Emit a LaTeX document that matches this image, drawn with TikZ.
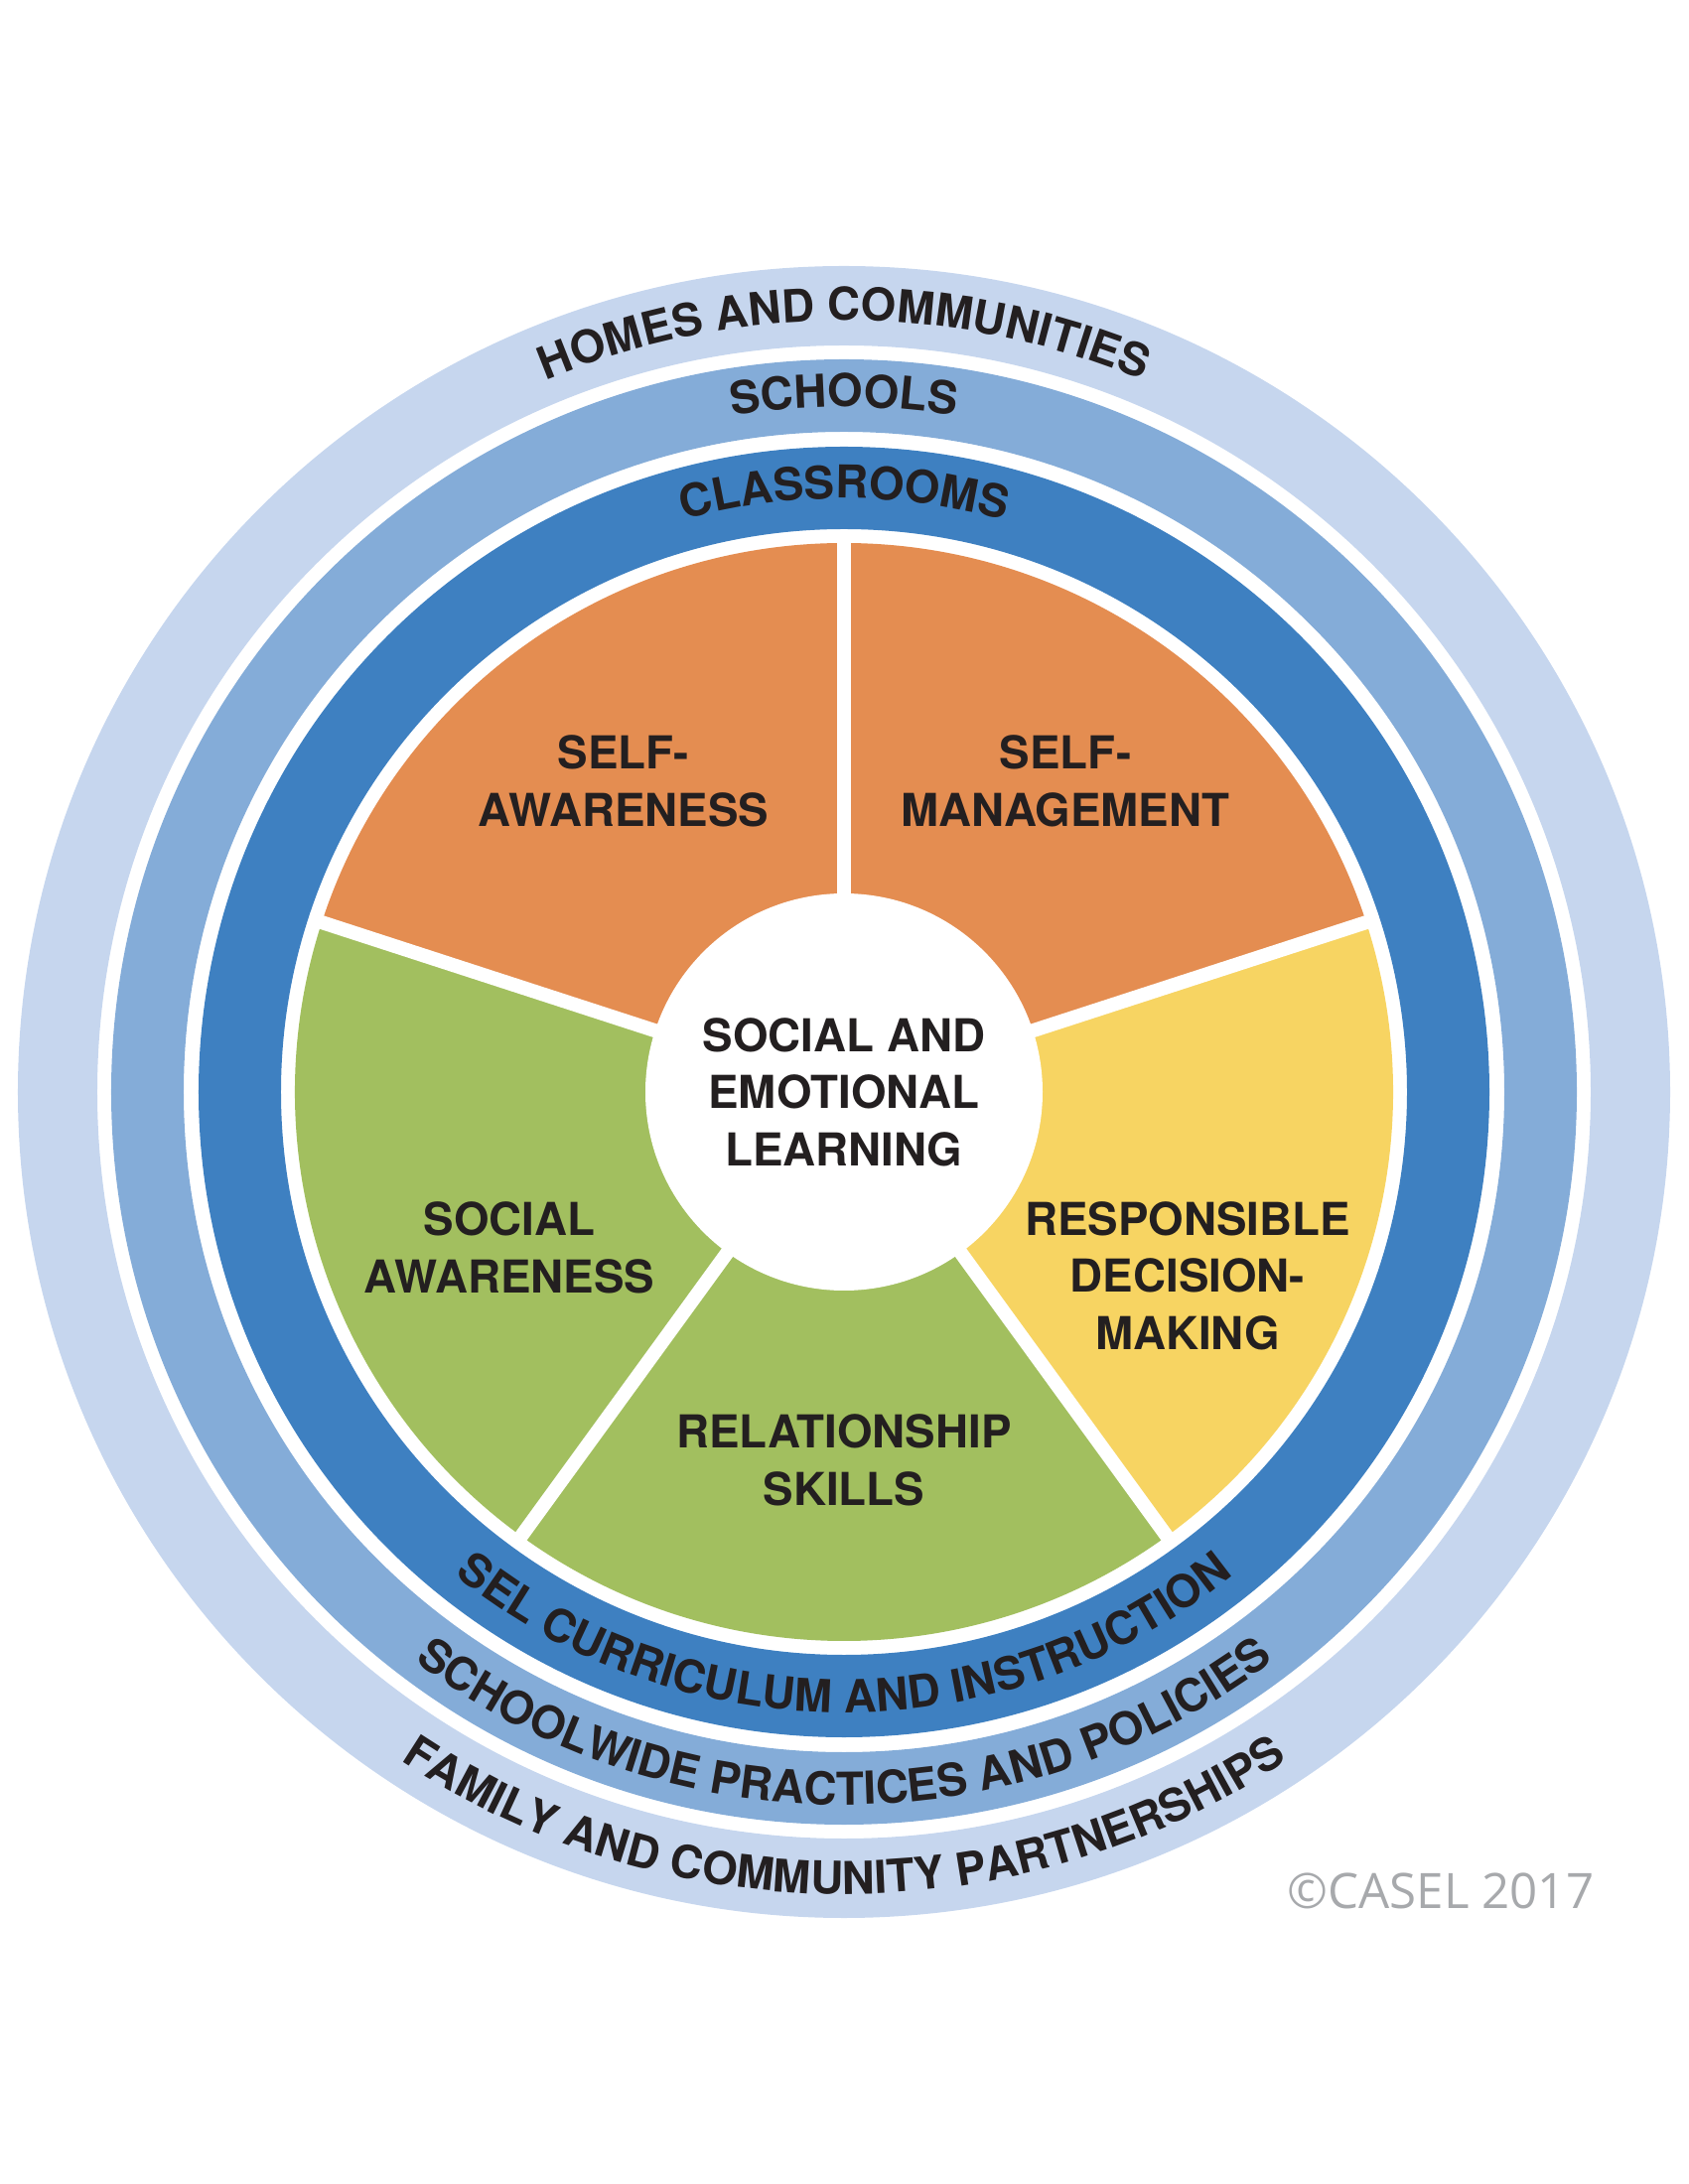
\documentclass[tikz,border=0pt]{standalone}
\usepackage{fontspec}
\setmainfont{TeX Gyre Heros}
\newfontfamily\caselfont{Open Sans}
\usetikzlibrary{decorations.text}
\definecolor{ringLight}{HTML}{C6D6EE}
\definecolor{ringMid}{HTML}{84ACD8}
\definecolor{ringDark}{HTML}{3E80C1}
\definecolor{petalOrange}{HTML}{E48D51}
\definecolor{petalYellow}{HTML}{F7D462}
\definecolor{petalGreen}{HTML}{A2BF5F}
\definecolor{inkDark}{HTML}{231F20}
\definecolor{captionGray}{HTML}{A7A9AC}
\newcommand{\ringfont}{\fontsize{13}{13}\selectfont\bfseries}
\newcommand{\ringband}[3]{
  \pgfmathsetmacro{\bandout}{#1}
  \pgfmathsetmacro{\bandin}{#2}
  \fill[#3, even odd rule] (0,0) circle (\bandout) circle (\bandin);
}
\newcommand{\petal}[3]{
  \pgfmathsetmacro{\petalstart}{#1}
  \pgfmathsetmacro{\petalend}{#2}
  \fill[#3] (0,0) -- (\petalstart:5.53) arc (\petalstart:\petalend:5.53) -- cycle;
}
\newcommand{\ringlabel}[4]{
  \pgfmathsetmacro{\labelr}{#1}
  \path[decorate, decoration={text along path, text align=center,
    text color=inkDark, text={|\ringfont|#4}}]
    (#2:\labelr) arc (#2:#3:\labelr);
}
\begin{document}
\begin{tikzpicture}[
    petal text/.style={align=center, text=inkDark,
      font=\fontsize{13}{16.4}\selectfont\bfseries}]
   \useasboundingbox (-8.5,-11) rectangle (8.5,11);

   \ringband{8.32}{7.52}{ringLight}
   \ringband{7.38}{6.65}{ringMid}
   \ringband{6.50}{5.67}{ringDark}

   \petal{90}{162}{petalOrange}
   \petal{18}{90}{petalOrange}
   \petal{-54}{18}{petalYellow}
   \petal{-126}{-54}{petalGreen}
   \petal{162}{234}{petalGreen}

   \foreach \a in {18,90,162,234,306}
   {
     \draw[white, line width=0.14cm] (0,0) -- (\a:5.6);
   }
   \fill[white] (0,0) circle (2.0);

   \ringlabel{7.77}{180}{0}{HOMES AND COMMUNITIES}
   \ringlabel{6.90}{180}{0}{SCHOOLS}
   \ringlabel{5.98}{180}{0}{CLASSROOMS}

   \ringlabel{6.25}{180}{360}{SEL CURRICULUM AND INSTRUCTION}
   \ringlabel{7.18}{180}{360}{SCHOOLWIDE PRACTICES AND POLICIES}
   \ringlabel{8.08}{180}{360}{FAMILY AND COMMUNITY PARTNERSHIPS}

   \node[petal text] (sel) at (0,0) {SOCIAL AND\\EMOTIONAL\\LEARNING};
   \node[petal text] (selfaware) at (-2.22,3.13) {SELF-\\AWARENESS};
   \node[petal text] (selfmanage) at (2.23,3.13) {SELF-\\MANAGEMENT};
   \node[petal text] (socialaware) at (-3.37,-1.57) {SOCIAL\\AWARENESS};
   \node[petal text] (decision) at (3.46,-1.85) {RESPONSIBLE\\DECISION-\\MAKING};
   \node[petal text] (relation) at (0,-3.71) {RELATIONSHIP\\SKILLS};

   \node[text=captionGray, font=\caselfont\fontsize{14}{14}\selectfont] (copy) at (6.01,-8.05) {©CASEL 2017};
\end{tikzpicture}
\end{document}
